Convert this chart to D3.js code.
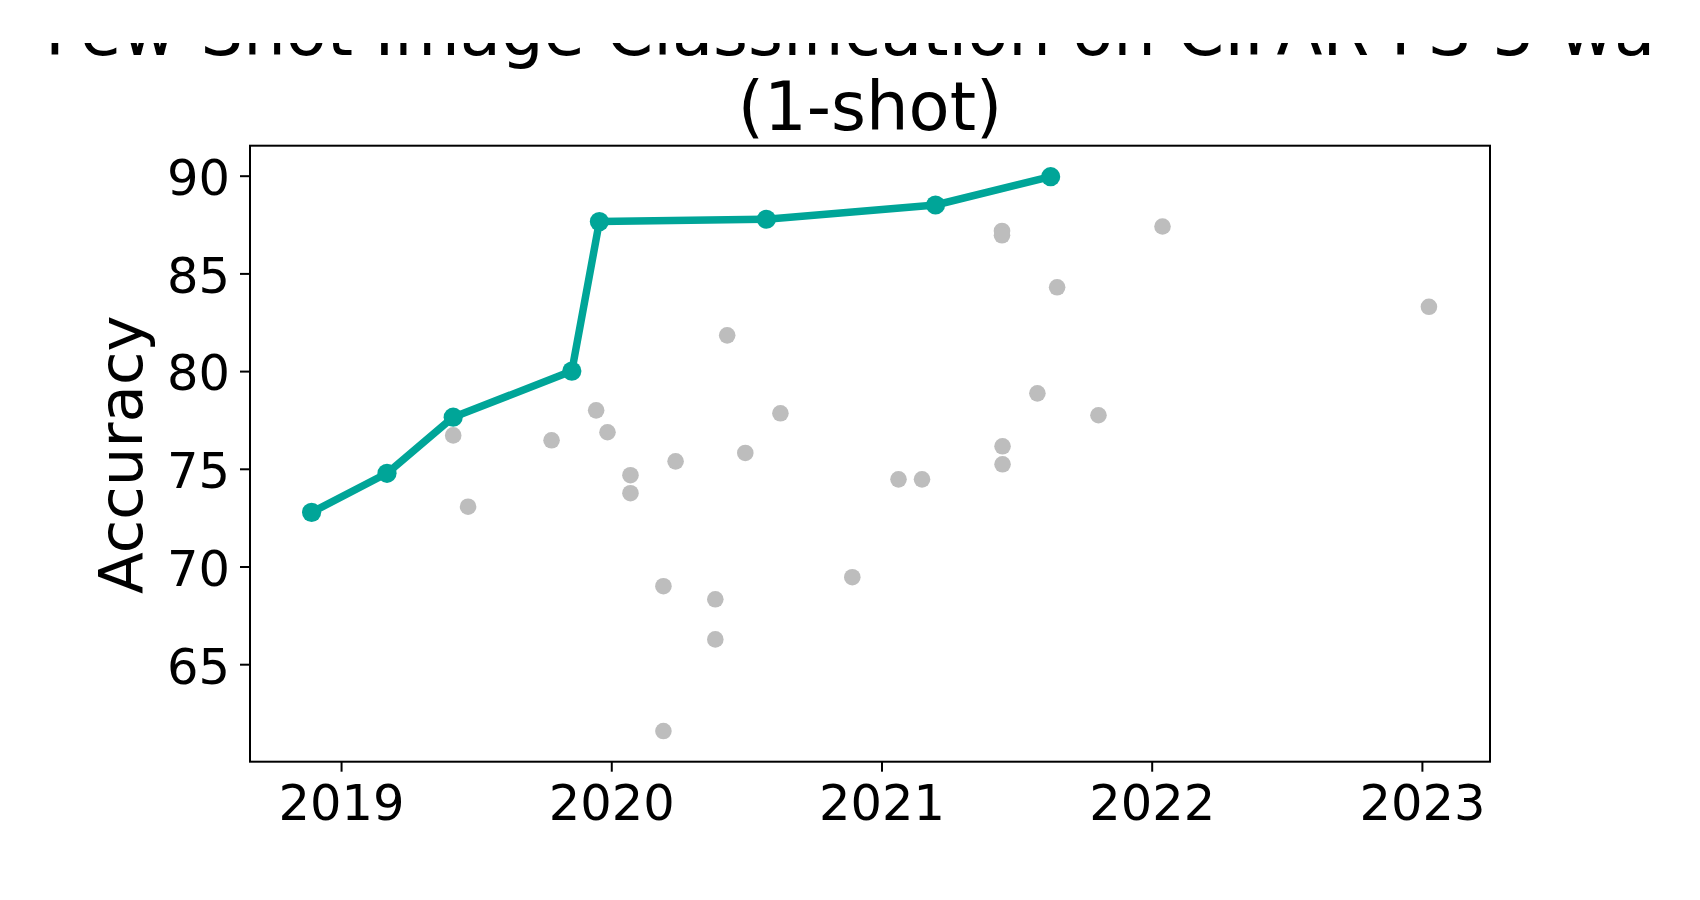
<!DOCTYPE html>
<html>
<head>
<meta charset="utf-8">
<script src="https://cdn.jsdelivr.net/npm/d3@7"></script>
<style>
  html, body { margin: 0; padding: 0; background: #ffffff; }
  svg { display: block; font-family: "DejaVu Sans", sans-serif; }
</style>
</head>
<body>
<svg id="chart" width="1700" height="900"></svg>
<script>
// ---- data (decimal years, accuracy %) ----
const titleLines = ["Few-Shot Image Classification on CIFAR-FS 5-way", "(1-shot)"];
const yLabel = "Accuracy";

const sotaYears = [2018.891, 2019.170, 2019.415, 2019.854, 2019.956, 2020.574, 2021.200, 2021.626];
const sotaAcc   = [72.77, 74.77, 77.64, 80.00, 87.65, 87.77, 88.50, 89.95];

const otherYears = [2019.415, 2019.470, 2019.779, 2019.944, 2019.986, 2020.071, 2020.071, 2020.238,
                    2020.429, 2020.496, 2020.626, 2020.193, 2020.193, 2020.385, 2020.385, 2020.892,
                    2021.063, 2021.150, 2021.448, 2021.448, 2021.577, 2021.803, 2021.446, 2021.446,
                    2021.650, 2022.040, 2023.026];
const otherAcc   = [76.71, 73.06, 76.46, 77.99, 76.87, 74.67, 73.75, 75.38,
                    81.83, 75.81, 77.84, 68.99, 61.58, 68.32, 66.27, 69.45,
                    74.46, 74.46, 76.15, 75.23, 78.86, 77.74, 87.17, 86.95,
                    84.29, 87.40, 83.29];

const xTicks = [2019, 2020, 2021, 2022, 2023];
const yTicks = [65, 70, 75, 80, 85, 90];

// ---- layout ----
const W = 1700, H = 900;
const plot = { left: 250, right: 1490, top: 145.7, bottom: 761.7 };
const teal = "#00a598";
const grey = "#bdbdbd";

const svg = d3.select("#chart");

const x = d3.scaleLinear().domain([2018.663, 2023.252]).range([plot.left, plot.right]);
const y = d3.scaleLinear().domain([60.01, 91.535]).range([plot.bottom, plot.top]);

// title (clipped like the reference)
svg.append("defs").append("clipPath").attr("id", "titleClip")
  .append("rect").attr("x", 0).attr("y", 43).attr("width", 1654).attr("height", 120);
const tg = svg.append("g").attr("clip-path", "url(#titleClip)");
const titleBase = [55, 130];
tg.selectAll("text.title").data(titleLines).join("text")
  .attr("class", "title")
  .attr("x", (plot.left + plot.right) / 2)
  .attr("y", (d, i) => titleBase[i])
  .attr("text-anchor", "middle")
  .attr("font-size", 67.2)
  .attr("fill", "#000")
  .text(d => d);

// points & line
const pts = sotaYears.map((d, i) => ({ x: d, y: sotaAcc[i] }));
const others = otherYears.map((d, i) => ({ x: d, y: otherAcc[i] }));

svg.append("g").selectAll("circle").data(others).join("circle")
  .attr("cx", d => x(d.x)).attr("cy", d => y(d.y)).attr("r", 8.3)
  .attr("fill", grey);

svg.append("path").datum(pts)
  .attr("fill", "none").attr("stroke", teal).attr("stroke-width", 7.5)
  .attr("stroke-linejoin", "round")
  .attr("d", d3.line().x(d => x(d.x)).y(d => y(d.y)));

svg.append("g").selectAll("circle").data(pts).join("circle")
  .attr("cx", d => x(d.x)).attr("cy", d => y(d.y)).attr("r", 9.6)
  .attr("fill", teal);

// axes
const xAxis = d3.axisBottom(x).tickValues(xTicks).tickFormat(d3.format("d"))
  .tickSize(10).tickSizeOuter(0).tickPadding(13);
const yAxis = d3.axisLeft(y).tickValues(yTicks).tickFormat(d3.format("d"))
  .tickSize(10).tickSizeOuter(0).tickPadding(10);

const gx = svg.append("g").attr("transform", `translate(0,${plot.bottom})`).call(xAxis);
const gy = svg.append("g").attr("transform", `translate(${plot.left},0)`).call(yAxis);
[gx, gy].forEach(g => {
  g.select(".domain").remove();
  g.selectAll(".tick line").attr("stroke", "#000").attr("stroke-width", 2);
  g.selectAll(".tick text").attr("font-size", 49.5).attr("fill", "#000")
    .attr("font-family", "DejaVu Sans, sans-serif");
});
gy.selectAll(".tick text").attr("dy", "0.38em");

// frame
svg.append("rect")
  .attr("x", plot.left).attr("y", plot.top)
  .attr("width", plot.right - plot.left).attr("height", plot.bottom - plot.top)
  .attr("fill", "none").attr("stroke", "#000").attr("stroke-width", 2);

// y label
svg.append("text")
  .attr("transform", `translate(142,${(plot.top + plot.bottom) / 2 + 1}) rotate(-90)`)
  .attr("text-anchor", "middle")
  .attr("font-size", 61)
  .attr("fill", "#000")
  .text(yLabel);
</script>
</body>
</html>
